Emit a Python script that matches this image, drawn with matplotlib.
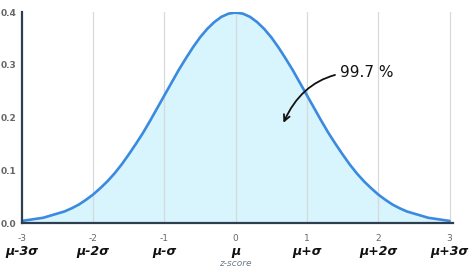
import numpy as np
import matplotlib.pyplot as plt

# z-scores and density values (step 0.1)
z = [round(-3.0 + 0.1 * i, 1) for i in range(61)]
right_half = [0.399, 0.397, 0.391, 0.381, 0.368, 0.352, 0.333, 0.312, 0.290, 0.266,
              0.242, 0.218, 0.194, 0.171, 0.150, 0.130, 0.111, 0.094, 0.079, 0.066,
              0.054, 0.044, 0.035, 0.028, 0.022, 0.018, 0.014, 0.010, 0.008, 0.006,
              0.004]
density = right_half[:0:-1] + right_half

xticks = [-3, -2, -1, 0, 1, 2, 3]
yticks = [0.0, 0.1, 0.2, 0.3, 0.4]
sigma_labels = ['μ-3σ', 'μ-2σ', 'μ-σ', 'μ', 'μ+σ', 'μ+2σ', 'μ+3σ']
note = '99.7 %'

fig = plt.figure(figsize=(4.74, 2.74), dpi=100)
ax = fig.add_axes([0.046, 0.186, 0.91, 0.77])

ax.fill_between(z, density, 0, color='#d8f4fc', zorder=1)
for t in xticks[1:]:
    ax.axvline(t, color='#d6dadc', lw=0.9, zorder=2)
ax.plot(z, density, color='#3a8ae0', lw=1.9, zorder=3, solid_capstyle='round')

ax.set_xlim(-3, 3.05)
ax.set_ylim(0, 0.4)
ax.set_xticks(xticks)
ax.set_yticks(yticks)
ax.set_xticklabels([str(t) for t in xticks])
ax.set_yticklabels(['%.1f' % v for v in yticks])
ax.tick_params(length=0, labelsize=6.5, labelcolor='#666666')
ax.tick_params(axis='x', pad=8)
ax.tick_params(axis='y', pad=4)
for lab in ax.get_yticklabels():
    lab.set_fontweight('bold')

for s in ['top', 'right']:
    ax.spines[s].set_visible(False)
for s in ['left', 'bottom']:
    ax.spines[s].set_color('#2c3e50')
    ax.spines[s].set_linewidth(1.6)
    ax.spines[s].set_zorder(4)

# handwritten-style sigma labels under the numeric ticks
trans = ax.get_xaxis_transform()
for t, lab in zip(xticks, sigma_labels):
    ax.text(t, -0.135, lab, transform=trans, ha='center', va='center',
            fontsize=9, fontweight='bold', style='italic', color='#111111')
ax.text(0, -0.19, 'z-score', transform=trans, ha='center', va='center',
        fontsize=6.5, style='italic', color='#6a7c8c')

ax.annotate(note, xy=(0.67, 0.19), xytext=(1.47, 0.286),
            fontsize=11, color='#111111', va='center', ha='left',
            arrowprops=dict(arrowstyle='->', color='#111111', lw=1.3,
                            shrinkA=2, shrinkB=0,
                            connectionstyle='arc3,rad=0.35'))

fig.savefig('out.png', dpi=100)
